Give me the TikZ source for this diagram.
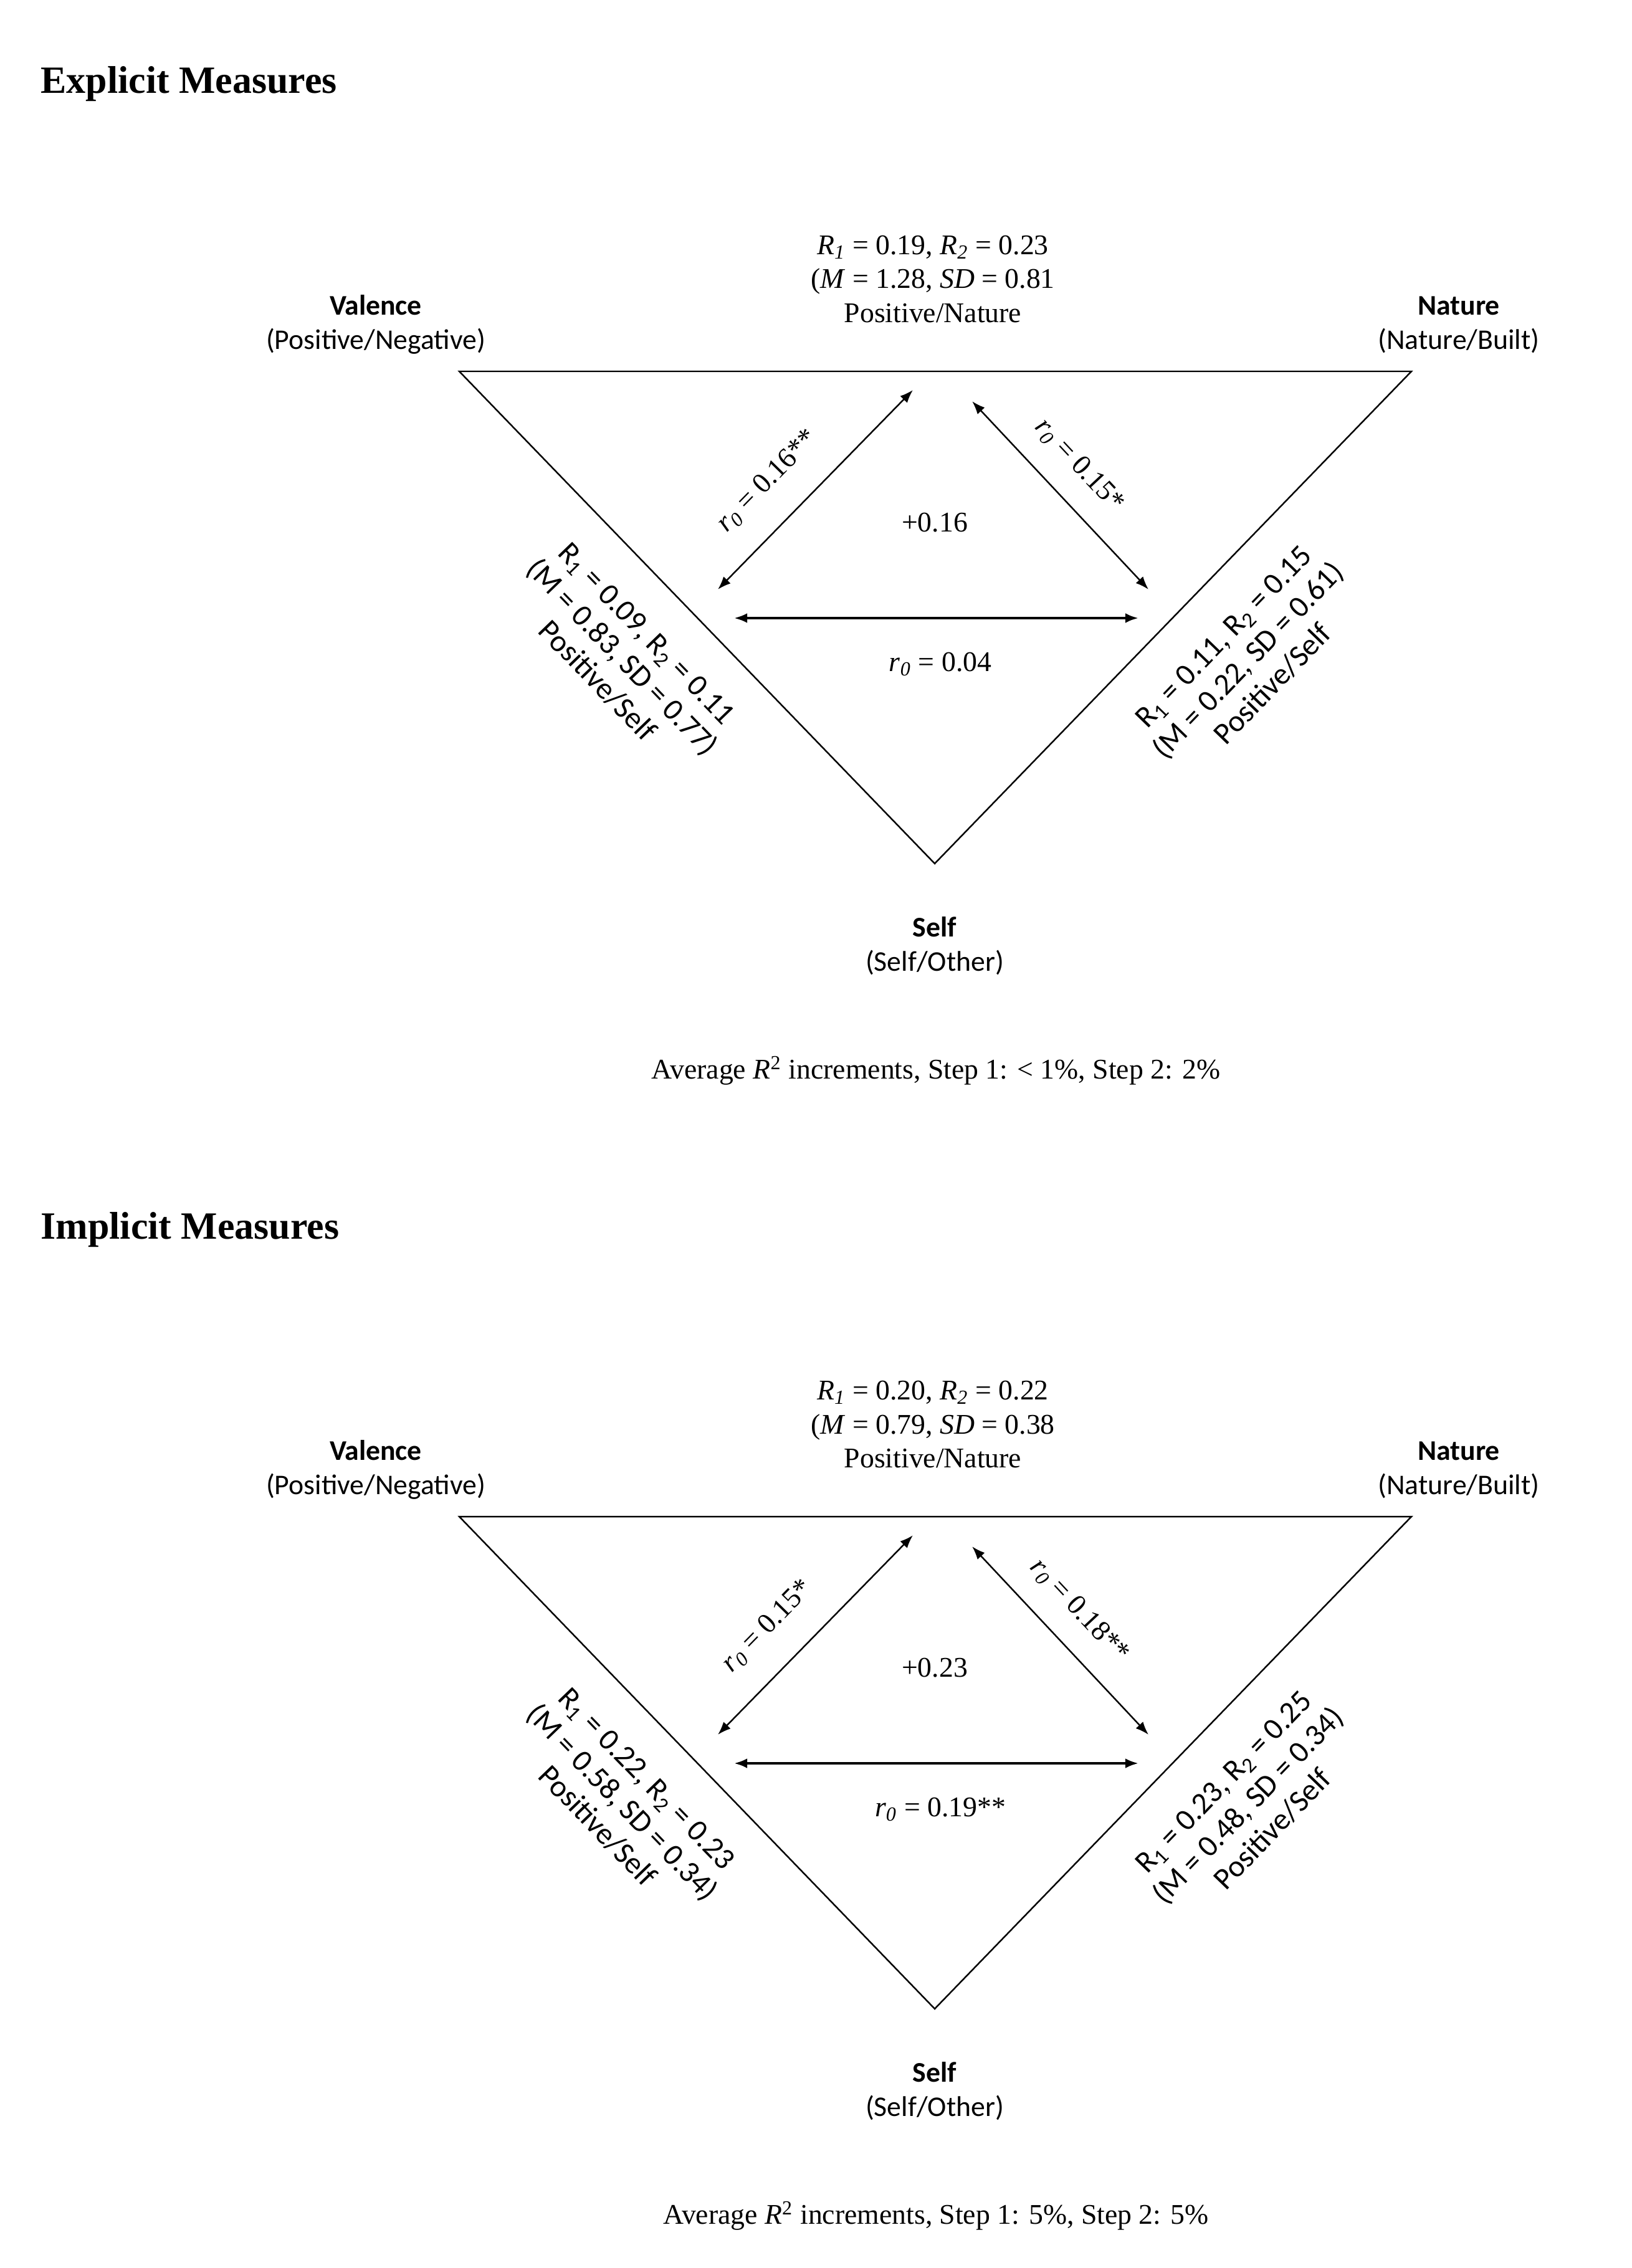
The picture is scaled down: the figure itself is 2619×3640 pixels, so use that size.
\documentclass[tikz,border=0pt]{standalone}
\usepackage{fontspec}
\setmainfont{Liberation Serif}
\newfontfamily\calibri{Carlito}
\usetikzlibrary{arrows.meta}
\tikzset{edge/.style={black, line width=0.7pt, line join=miter},
  link/.style={black, line width=0.7pt, {Latex[length=6pt,width=4.5pt]}-{Latex[length=6pt,width=4.5pt]}},
  cross/.style={link, line width=1.1pt},
  heading/.style={font=\fontsize{17.6}{21}\selectfont\bfseries, anchor=base west, inner sep=0pt},
  pole/.style={font=\calibri\fontsize{13}{15.6}\selectfont, align=center, inner sep=0pt},
  serif/.style={font=\fontsize{13}{15.4}\selectfont, align=center, inner sep=0pt},
  side/.style={font=\calibri\fontsize{14}{15.6}\selectfont, align=center, inner sep=0pt}}

\begin{document}
\begin{tikzpicture}[x=0.01cm, y=-0.01cm]
   \useasboundingbox (0,0) rectangle (2619,3640);
   % explicit measures
   \node[heading] (ex-title) at (65,150) {Explicit Measures};
   \coordinate (ex-val) at (737,596);
   \coordinate (ex-nat) at (2265,596);
   \coordinate (ex-self) at (1500,1386);
   \draw[edge] (ex-val) -- (ex-nat) -- (ex-self) -- cycle;
   \node[pole] (ex-valence) at (603,521) {\textbf{Valence}\\(Positive/Negative)};
   \node[pole] (ex-nature) at (2341,521) {\textbf{Nature}\\(Nature/Built)};
   \node[pole] (ex-selfl) at (1500,1518) {\textbf{Self}\\(Self/Other)};
   \node[serif] (ex-pn) at (1497,448) {\textit{R}\textsubscript{\textit{1}} = 0.19, \textit{R}\textsubscript{\textit{2}} = 0.23\\(\textit{M} = 1.28, \textit{SD} = 0.81\\Positive/Nature};
   \node[side, rotate=-46] (ex-psl) at (998,1055) {R\textsubscript{1} = 0.09, R\textsubscript{2} = 0.11\\(M = 0.83, SD = 0.77)\\Positive/Self};
   \node[side, rotate=46] (ex-psr) at (2003,1060) {R\textsubscript{1} = 0.11, R\textsubscript{2} = 0.15\\(M = 0.22, SD = 0.61)\\Positive/Self};
   \coordinate (ex-tl) at (1465,626);
   \coordinate (ex-tr) at (1560,644);
   \coordinate (ex-bl) at (1152,946);
   \coordinate (ex-br) at (1843,946);
   \coordinate (ex-hl) at (1178,992);
   \coordinate (ex-hr) at (1827,992);
   \draw[link] (ex-bl) -- (ex-tl);
   \draw[link] (ex-tr) -- (ex-br);
   \draw[cross] (ex-hl) -- (ex-hr);
   \node[serif, rotate=45.6] (ex-rl) at (1232,772) {\textit{r}\textsubscript{\textit{0}} = 0.16**};
   \node[serif, rotate=-46.9] (ex-rr) at (1732,747) {\textit{r}\textsubscript{\textit{0}} = 0.15*};
   \node[serif] (ex-rh) at (1509,1066) {\textit{r}\textsubscript{\textit{0}} = 0.04};
   \node[serif] (ex-inc) at (1500,839) {+0.16};
   \node[serif] (ex-avg) at (1502,1718) {Average \textit{R}\textsuperscript{2} increments, Step 1: < 1\%, Step 2: 2\%};

   % implicit measures
   \begin{scope}[shift={(0,1838)}]
   \node[heading] (im-title) at (65,150) {Implicit Measures};
   \coordinate (im-val) at (737,596);
   \coordinate (im-nat) at (2265,596);
   \coordinate (im-self) at (1500,1386);
   \draw[edge] (im-val) -- (im-nat) -- (im-self) -- cycle;
   \node[pole] (im-valence) at (603,521) {\textbf{Valence}\\(Positive/Negative)};
   \node[pole] (im-nature) at (2341,521) {\textbf{Nature}\\(Nature/Built)};
   \node[pole] (im-selfl) at (1500,1518) {\textbf{Self}\\(Self/Other)};
   \node[serif] (im-pn) at (1497,448) {\textit{R}\textsubscript{\textit{1}} = 0.20, \textit{R}\textsubscript{\textit{2}} = 0.22\\(\textit{M} = 0.79, \textit{SD} = 0.38\\Positive/Nature};
   \node[side, rotate=-46] (im-psl) at (998,1055) {R\textsubscript{1} = 0.22, R\textsubscript{2} = 0.23\\(M = 0.58, SD = 0.34)\\Positive/Self};
   \node[side, rotate=46] (im-psr) at (2003,1060) {R\textsubscript{1} = 0.23, R\textsubscript{2} = 0.25\\(M = 0.48, SD = 0.34)\\Positive/Self};
   \coordinate (im-tl) at (1465,626);
   \coordinate (im-tr) at (1560,644);
   \coordinate (im-bl) at (1152,946);
   \coordinate (im-br) at (1843,946);
   \coordinate (im-hl) at (1178,992);
   \coordinate (im-hr) at (1827,992);
   \draw[link] (im-bl) -- (im-tl);
   \draw[link] (im-tr) -- (im-br);
   \draw[cross] (im-hl) -- (im-hr);
   \node[serif, rotate=45.6] (im-rl) at (1232,772) {\textit{r}\textsubscript{\textit{0}} = 0.15*};
   \node[serif, rotate=-46.9] (im-rr) at (1732,747) {\textit{r}\textsubscript{\textit{0}} = 0.18**};
   \node[serif] (im-rh) at (1509,1066) {\textit{r}\textsubscript{\textit{0}} = 0.19**};
   \node[serif] (im-inc) at (1500,839) {+0.23};
   \node[serif] (im-avg) at (1502,1718) {Average \textit{R}\textsuperscript{2} increments, Step 1: 5\%, Step 2: 5\%};
   \end{scope}
\end{tikzpicture}
\end{document}
